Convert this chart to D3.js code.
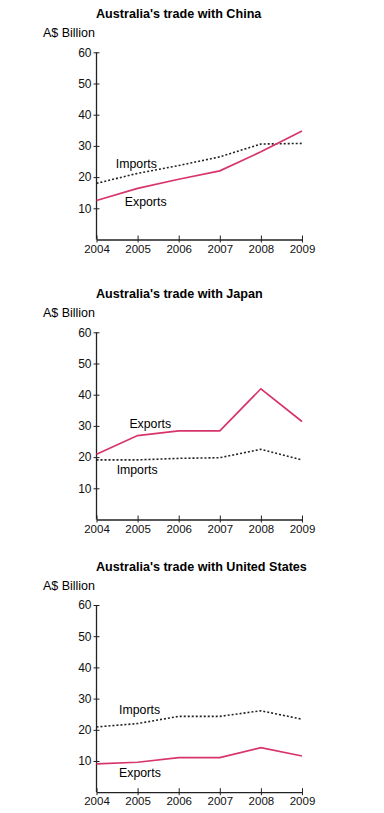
<!DOCTYPE html>
<html>
<head>
<meta charset="utf-8">
<script src="https://cdn.jsdelivr.net/npm/d3@7"></script>
<style>
body { margin: 0; background: #fff; }
svg { display: block; font-family: "Liberation Sans", Arial, sans-serif; }
.tick text { fill: #111; }
</style>
</head>
<body>
<div id="chart"></div>
<script>
var years = [2004, 2005, 2006, 2007, 2008, 2009];
var yTicks = [10, 20, 30, 40, 50, 60];

var titles = ["Australia's trade with China", "Australia's trade with Japan", "Australia's trade with United States"];

var chinaExports = [12.5, 16.4, 19.3, 22, 28.1, 34.8];
var chinaImports = [18, 21.2, 23.7, 26.5, 30.6, 30.8];
var japanExports = [20.9, 26.9, 28.4, 28.4, 41.9, 31.4];
var japanImports = [19.1, 19.1, 19.6, 19.8, 22.5, 19.1];
var usExports = [9.1, 9.6, 11.1, 11.1, 14.3, 11.6];
var usImports = [20.9, 22, 24.3, 24.3, 26.1, 23.4];

// label anchors in data units: [year, value]
var exportLabels = [[2004.69, 12.0], [2004.8, 30.8], [2004.55, 6.3]];
var importLabels = [[2004.47, 24.2], [2004.49, 16.1], [2004.55, 26.6]];

var w = 384;
var h = 813;
var red = "#d8346c";

var svg = d3.select("#chart")
            .append("svg")
            .attr("width", w)
            .attr("height", h);

var panels = [
    { top: 52.3, exports: chinaExports, imports: chinaImports },
    { top: 332.3, exports: japanExports, imports: japanImports },
    { top: 605, exports: usExports, imports: usImports }
];

var x = d3.scaleLinear().domain([2004, 2009]).range([96.5, 302]);

panels.forEach(function(p, i) {
    var y = d3.scaleLinear().domain([0, 60]).range([p.top + 187.2, p.top]);
    var g = svg.append("g");

    g.append("text")
     .attr("x", 96)
     .attr("y", p.top - 34)
     .style("font-size", "12.6px")
     .style("font-weight", "bold")
     .text(titles[i]);

    g.append("text")
     .attr("x", 95)
     .attr("y", p.top - 15.5)
     .attr("text-anchor", "end")
     .style("font-size", "12.5px")
     .text("A$ Billion");

    var yAxis = g.append("g")
     .attr("transform", "translate(" + x(2004) + ",0)")
     .call(d3.axisLeft(y).tickValues(yTicks).tickSizeInner(3).tickSizeOuter(0).tickPadding(2));
    yAxis.selectAll(".tick text").style("font-size", "12px");
    yAxis.selectAll(".tick line").attr("x1", 3).attr("x2", -3).attr("stroke", "#222");
    yAxis.select(".domain").remove();
    yAxis.append("line")
         .attr("y1", y(0)).attr("y2", y(60))
         .attr("stroke", "#222").attr("stroke-width", 1.3);

    var xAxis = g.append("g")
     .attr("transform", "translate(0," + y(0) + ")")
     .call(d3.axisBottom(x).tickValues(years).tickFormat(d3.format("d")).tickSizeInner(3).tickSizeOuter(0).tickPadding(2));
    xAxis.selectAll(".tick text").style("font-size", "11.5px");
    xAxis.selectAll(".tick line").attr("y1", -4).attr("y2", 3).attr("stroke", "#222");
    xAxis.select(".domain").attr("stroke", "#222").attr("stroke-width", 1.3);

    var line = d3.line()
        .x(function(d, j) { return x(years[j]); })
        .y(function(d) { return y(d); });

    g.append("path")
     .datum(p.imports)
     .attr("d", line)
     .attr("fill", "none")
     .attr("stroke", "#222")
     .attr("stroke-width", 1.6)
     .attr("stroke-dasharray", "2,2");

    g.append("path")
     .datum(p.exports)
     .attr("d", line)
     .attr("fill", "none")
     .attr("stroke", red)
     .attr("stroke-width", 1.7);

    g.append("text")
     .attr("x", x(importLabels[i][0]))
     .attr("y", y(importLabels[i][1]))
     .attr("dy", "0.35em")
     .style("font-size", "12.3px")
     .text("Imports");

    g.append("text")
     .attr("x", x(exportLabels[i][0]))
     .attr("y", y(exportLabels[i][1]))
     .attr("dy", "0.35em")
     .style("font-size", "12.3px")
     .text("Exports");
});
</script>
</body>
</html>
